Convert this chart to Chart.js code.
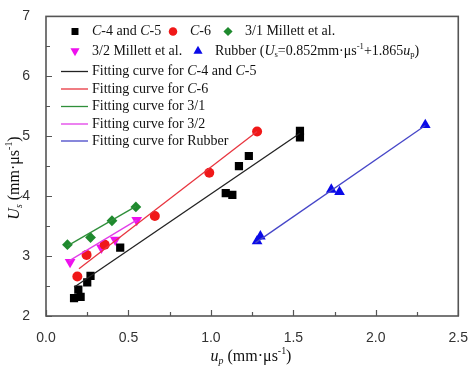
<!DOCTYPE html>
<html><head><meta charset="utf-8">
<script src="https://cdn.jsdelivr.net/npm/chart.js@4.4.0/dist/chart.umd.min.js"></script>
<style>html,body{margin:0;padding:0;background:#fff}#wrap{width:474px;height:372px;position:relative}</style>
</head><body><div id="wrap"><canvas id="c" width="474" height="372"></canvas></div>
<script>
// ---- data ----
const xTicks = [0, 0.5, 1.0, 1.5, 2.0, 2.5];
const yTicks = [2, 3, 4, 5, 6, 7];
const c45X = [0.17, 0.21, 0.196, 0.25, 0.27, 0.45, 1.09, 1.13, 1.17, 1.23, 1.54, 1.54];
const c45Y = [2.30, 2.32, 2.44, 2.56, 2.67, 3.14, 4.05, 4.02, 4.50, 4.67, 5.09, 4.98];
const c6X = [0.19, 0.246, 0.356, 0.66, 0.99, 1.28];
const c6Y = [2.66, 3.02, 3.19, 3.67, 4.39, 5.08];
const m31X = [0.13, 0.27, 0.40, 0.545];
const m31Y = [3.19, 3.31, 3.59, 3.82];
const m32X = [0.146, 0.336, 0.42, 0.55];
const m32Y = [2.90, 3.14, 3.27, 3.60];
const rubX = [1.28, 1.30, 1.73, 1.78, 2.30];
const rubY = [3.25, 3.33, 4.11, 4.07, 5.19];
const fitC45X = [0.17, 1.54], fitC45Y = [2.48, 5.05];
const fitC6X = [0.20, 1.28], fitC6Y = [2.79, 5.08];
const fit31X = [0.13, 0.545], fit31Y = [3.17, 3.83];
const fit32X = [0.14, 0.55], fit32Y = [2.92, 3.60];
const fitRubX = [1.27, 2.30], fitRubY = [3.22, 5.18];

const seriesLabels = ['C-4 and C-5', 'C-6', '3/1 Millett et al.', '3/2 Millett et al.', 'Rubber (Us=0.852mm·μs-1+1.865up)'];
const fitLabels = ['Fitting curve for C-4 and C-5', 'Fitting curve for C-6', 'Fitting curve for 3/1', 'Fitting curve for 3/2', 'Fitting curve for Rubber'];

const pts = (xs, ys) => xs.map((x, i) => ({x: x, y: ys[i]}));

const SERIF = '"Liberation Serif","Times New Roman",serif';
const SANS = '"Liberation Sans",Arial,sans-serif';

const datasets = [
  {label: fitLabels[0], data: pts(fitC45X, fitC45Y), showLine: true, borderColor: '#222', borderWidth: 1.3, pointRadius: 0},
  {label: fitLabels[1], data: pts(fitC6X, fitC6Y), showLine: true, borderColor: '#e8353f', borderWidth: 1.3, pointRadius: 0},
  {label: fitLabels[2], data: pts(fit31X, fit31Y), showLine: true, borderColor: '#2f8f3a', borderWidth: 1.3, pointRadius: 0},
  {label: fitLabels[3], data: pts(fit32X, fit32Y), showLine: true, borderColor: '#e23ee8', borderWidth: 1.3, pointRadius: 0},
  {label: fitLabels[4], data: pts(fitRubX, fitRubY), showLine: true, borderColor: '#4646c8', borderWidth: 1.3, pointRadius: 0},
  {label: seriesLabels[0], data: pts(c45X, c45Y), showLine: false, pointStyle: 'rect', pointRadius: 5.8, backgroundColor: '#000', borderColor: '#000', borderWidth: 0},
  {label: seriesLabels[1], data: pts(c6X, c6Y), showLine: false, pointStyle: 'circle', pointRadius: 5, backgroundColor: '#f01818', borderColor: '#f01818', borderWidth: 0},
  {label: seriesLabels[2], data: pts(m31X, m31Y), showLine: false, pointStyle: 'rectRot', pointRadius: 5.4, backgroundColor: '#1f8a2e', borderColor: '#1f8a2e', borderWidth: 0},
  {label: seriesLabels[3], data: pts(m32X, m32Y), showLine: false, pointStyle: 'triangle', rotation: 180, pointRadius: 6.2, backgroundColor: '#ee10ee', borderColor: '#ee10ee', borderWidth: 0},
  {label: seriesLabels[4], data: pts(rubX, rubY), showLine: false, pointStyle: 'triangle', pointRadius: 6.2, backgroundColor: '#0a0ae8', borderColor: '#0a0ae8', borderWidth: 0}
];

function rich(ctx, x, y, segs, size) {
  let cx = x;
  for (const s of segs) {
    let fs = size, dy = 0;
    if (s.sub) { fs = size * 0.62; dy = size * 0.3; }
    if (s.sup) { fs = size * 0.62; dy = -size * 0.32; }
    ctx.font = (s.i ? 'italic ' : '') + fs + 'px ' + SERIF;
    ctx.fillText(s.t, cx, y + dy);
    cx += ctx.measureText(s.t).width;
  }
  return cx - x;
}
function richWidth(ctx, segs, size) {
  let w = 0;
  for (const s of segs) {
    let fs = (s.sub || s.sup) ? size * 0.62 : size;
    ctx.font = (s.i ? 'italic ' : '') + fs + 'px ' + SERIF;
    w += ctx.measureText(s.t).width;
  }
  return w;
}

const legendRich = [
  [{t: 'C', i: 1}, {t: '-4 and '}, {t: 'C', i: 1}, {t: '-5'}],
  [{t: 'C', i: 1}, {t: '-6'}],
  [{t: '3/1 Millett et al.'}],
  [{t: '3/2 Millett et al.'}],
  [{t: 'Rubber ('}, {t: 'U', i: 1}, {t: 's', sub: 1}, {t: '=0.852mm·μs'}, {t: '-1', sup: 1}, {t: '+1.865'}, {t: 'u', i: 1}, {t: 'p', sub: 1}, {t: ')'}]
];
const fitRich = [
  [{t: 'Fitting curve for '}, {t: 'C', i: 1}, {t: '-4 and '}, {t: 'C', i: 1}, {t: '-5'}],
  [{t: 'Fitting curve for '}, {t: 'C', i: 1}, {t: '-6'}],
  [{t: 'Fitting curve for 3/1'}],
  [{t: 'Fitting curve for 3/2'}],
  [{t: 'Fitting curve for Rubber'}]
];

const decor = {
  id: 'decor',
  afterDatasetsDraw(chart) {
    const ctx = chart.ctx, a = chart.chartArea;
    const xs = chart.scales.x, ys = chart.scales.y;
    ctx.save();
    // ticks
    ctx.strokeStyle = '#555'; ctx.lineWidth = 1.2;
    ctx.beginPath();
    for (let v = 0; v <= 2.5001; v += 0.25) {
      const px = Math.round(xs.getPixelForValue(v)) + 0.5;
      const major = Math.abs(v / 0.5 - Math.round(v / 0.5)) < 1e-6;
      ctx.moveTo(px, a.bottom); ctx.lineTo(px, a.bottom - (major ? 6 : 4));
    }
    for (let v = 2; v <= 7.0001; v += 0.5) {
      const py = Math.round(ys.getPixelForValue(v)) + 0.5;
      const major = Math.abs(v - Math.round(v)) < 1e-6;
      ctx.moveTo(a.left, py); ctx.lineTo(a.left + (major ? 6 : 4), py);
    }
    ctx.stroke();
    // frame
    ctx.lineWidth = 1.6; ctx.strokeStyle = '#555';
    ctx.strokeRect(a.left, a.top, a.right - a.left, a.bottom - a.top);

    // legend
    const fs = 14;
    ctx.fillStyle = '#111'; ctx.textBaseline = 'middle'; ctx.textAlign = 'left';
    const H = Chart.helpers;
    const markers = [
      {ds: 5, mx: 75, tx: 92, y: 31.5},
      {ds: 6, mx: 173, tx: 190, y: 31.5},
      {ds: 7, mx: 228, tx: 245, y: 31.5},
      {ds: 8, mx: 75, tx: 92, y: 51},
      {ds: 9, mx: 198, tx: 215, y: 51}
    ];
    markers.forEach((m, i) => {
      const d = datasets[m.ds];
      ctx.fillStyle = d.backgroundColor; ctx.strokeStyle = d.borderColor; ctx.lineWidth = 0.01;
      H.drawPoint(ctx, {pointStyle: d.pointStyle, rotation: d.rotation || 0, radius: d.pointRadius * 0.85, borderWidth: 0}, m.mx, m.y);
      ctx.fillStyle = '#111';
      rich(ctx, m.tx, m.y, legendRich[i], fs);
    });
    const rowsY = [71.5, 89, 106.5, 124, 141];
    rowsY.forEach((y, i) => {
      const d = datasets[i];
      ctx.strokeStyle = d.borderColor; ctx.lineWidth = 1.3;
      ctx.beginPath(); ctx.moveTo(61, y); ctx.lineTo(88, y); ctx.stroke();
      ctx.fillStyle = '#111';
      rich(ctx, 92, y, fitRich[i], fs);
    });

    // axis titles
    const tfs = 16;
    const xt = [{t: 'u', i: 1}, {t: 'p', sub: 1, i: 1}, {t: ' (mm·μs'}, {t: '-1', sup: 1}, {t: ')'}];
    const yt = [{t: 'U', i: 1}, {t: 's', sub: 1, i: 1}, {t: ' (mm·μs'}, {t: '-1', sup: 1}, {t: ')'}];
    ctx.fillStyle = '#111';
    let w = richWidth(ctx, xt, tfs);
    rich(ctx, 251 - w / 2, 357, xt, tfs);
    ctx.save();
    ctx.translate(15, 178); ctx.rotate(-Math.PI / 2);
    w = richWidth(ctx, yt, tfs);
    rich(ctx, -w / 2, 0, yt, tfs);
    ctx.restore();
    ctx.restore();
  }
};

new Chart(document.getElementById('c'), {
  type: 'scatter',
  data: {datasets: datasets},
  options: {
    responsive: false, animation: false, devicePixelRatio: 1,
    layout: {padding: {top: 11, right: 12, left: 0, bottom: 0}},
    plugins: {legend: {display: false}, tooltip: {enabled: false}},
    scales: {
      x: {
        type: 'linear', min: 0, max: 2.5,
        afterBuildTicks: s => { s.ticks = xTicks.map(v => ({value: v})); },
        afterFit: s => { s.height = 56; },
        grid: {display: false}, border: {display: false},
        ticks: {padding: 6, color: '#333', font: {family: SANS, size: 14}, callback: v => Number(v).toFixed(1), maxRotation: 0}
      },
      y: {
        type: 'linear', min: 2, max: 7,
        afterBuildTicks: s => { s.ticks = yTicks.map(v => ({value: v})); },
        afterFit: s => { s.width = 46; },
        grid: {display: false}, border: {display: false},
        ticks: {padding: 8, color: '#333', font: {family: SANS, size: 14}, callback: v => String(v)}
      }
    }
  },
  plugins: [decor]
});
</script>
</body></html>
